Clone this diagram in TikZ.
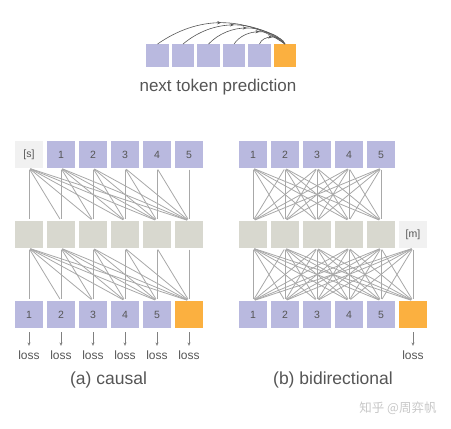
\documentclass[tikz,border=0pt]{standalone}
\usepackage{fontspec}
\setmainfont{Liberation Sans}
\newfontfamily\cjkfont{Noto Sans CJK SC}
\usetikzlibrary{arrows.meta,decorations.markings}
\definecolor{tokpurple}{HTML}{B9B9DF}
\definecolor{tgtorange}{HTML}{FBB040}
\definecolor{hidgray}{HTML}{D8D8CF}
\definecolor{spcgray}{HTML}{F1F1F1}
\definecolor{linkgray}{HTML}{A8A8A8}
\definecolor{txtgray}{HTML}{555555}
\tikzset{
	cell/.style={minimum width=28pt, minimum height=27pt, inner sep=0pt, text=txtgray, font=\fontsize{10.5}{12}\selectfont},
	tok/.style={cell, fill=tokpurple},
	hid/.style={cell, fill=hidgray},
	spc/.style={cell, fill=spcgray},
	tgt/.style={cell, fill=tgtorange},
	mini/.style={minimum size=22.5pt, inner sep=0pt},
	link/.style={linkgray, line width=0.8pt, shorten <=1.5pt, shorten >=2pt},
	nextarc/.style={txtgray, line width=0.6pt, postaction={decorate},
		decoration={markings, mark=at position 0.5 with {\arrow{Stealth[length=4pt,width=3.2pt]}}}},
	lossarrow/.style={gray, line width=0.7pt, shorten <=4pt, shorten >=5pt, -{Stealth[length=3.5pt,width=3pt]}},
	losslbl/.style={inner sep=0pt, text=txtgray, font=\fontsize{12}{14}\selectfont},
	caption/.style={inner sep=0pt, text=txtgray, font=\fontsize{17.5}{20}\selectfont},
}
\begin{document}
\begin{tikzpicture}[x=1pt, y=-1pt]
		\useasboundingbox (0,0) rectangle (451,429);
		%\draw [help lines] (0,0) grid (451,429);
		% next token prediction
		\foreach \i in {1,...,5}
			\node[mini, fill=tokpurple] (p\i) at ({157.5+25.5*(\i-1)},55.5) {};
		\node[mini, fill=tgtorange] (p6) at (285,55.5) {};
		\foreach \i/\b in {1/35,2/40,3/46,4/56,5/72}
			\draw[nextarc] (p\i.north) to[bend left=\b] (p6.north);
		\node[caption, font=\fontsize{17}{20}\selectfont] (ntp) at (218,87.5) {next token prediction};

		% (a) causal
		\node[spc] (ct0) at (29,154.5) {[s]};
		\foreach \i in {1,...,5}
			\node[tok] (ct\i) at ({29+32*\i},154.5) {\i};
		\foreach \i in {0,...,5}
			\node[hid] (cm\i) at ({29+32*\i},234.5) {};
		\foreach \i [count=\n] in {0,...,4}
			\node[tok] (cb\i) at ({29+32*\i},314.5) {\n};
		\node[tgt] (cb5) at (189,314.5) {};
		\foreach \i in {0,...,5}
			\foreach \j in {\i,...,5}{
				\draw[link] (ct\i.south) -- (cm\j.north);
				\draw[link] (cm\i.south) -- (cb\j.north);
			}
		\foreach \i in {0,...,5}{
			\node[losslbl] (cl\i) at ({29+32*\i},355.5) {loss};
			\draw[lossarrow] (cb\i.south) -- (cl\i.north);
		}
		\node[caption] (capa) at (108.5,379.5) {(a) causal};

		% (b) bidirectional
		\foreach \i in {1,...,5}
			\node[tok] (bt\i) at ({253+32*(\i-1)},154.5) {\i};
		\foreach \i in {0,...,4}
			\node[hid] (bm\i) at ({253+32*\i},234.5) {};
		\node[spc] (bm5) at (413,234.5) {[m]};
		\foreach \i [count=\n] in {0,...,4}
			\node[tok] (bb\i) at ({253+32*\i},314.5) {\n};
		\node[tgt] (bb5) at (413,314.5) {};
		\foreach \i in {1,...,5}
			\foreach \j in {0,...,4}
				\draw[link] (bt\i.south) -- (bm\j.north);
		\foreach \i in {0,...,5}
			\foreach \j in {0,...,5}
				\draw[link] (bm\i.south) -- (bb\j.north);
		\node[losslbl] (bl5) at (413,355.5) {loss};
		\draw[lossarrow] (bb5.south) -- (bl5.north);
		\node[caption] (capb) at (333,379.5) {(b) bidirectional};

		\node[inner sep=0pt, text=black!22, font=\fontsize{12.5}{14}\selectfont] (wm) at (398,408) {\cjkfont 知乎 @周弈帆};
	\end{tikzpicture}
\end{document}
